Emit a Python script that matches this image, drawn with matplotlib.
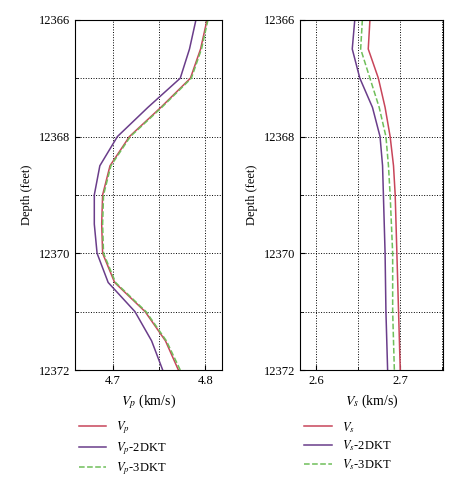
import matplotlib.pyplot as plt
from matplotlib.ticker import MultipleLocator

plt.rcParams['font.family'] = ['Liberation Serif', 'DejaVu Serif']
plt.rcParams['mathtext.fontset'] = 'stix'

depth = [12366, 12366.5, 12367, 12367.5, 12368, 12368.5, 12369, 12369.5, 12370,
         12370.5, 12371, 12371.5, 12372]
vp = [4.802, 4.795, 4.784, 4.752, 4.718, 4.697, 4.689, 4.688, 4.689,
      4.702, 4.735, 4.757, 4.771]
vp_3dkt = [4.803, 4.796, 4.785, 4.753, 4.719, 4.698, 4.690, 4.689, 4.690,
           4.703, 4.736, 4.758, 4.773]
vp_2dkt = [4.790, 4.783, 4.773, 4.738, 4.705, 4.686, 4.680, 4.680, 4.683,
           4.695, 4.724, 4.742, 4.754]

depth_s = [12366, 12366.5, 12367, 12367.5, 12368, 12368.5, 12369, 12370, 12371, 12372]
vs = [2.664, 2.662, 2.674, 2.682, 2.688, 2.692, 2.694, 2.696, 2.698, 2.700]
vs_2dkt = [2.646, 2.643, 2.652, 2.667, 2.676, 2.679, 2.680, 2.682, 2.683, 2.685]
vs_3dkt = [2.655, 2.653, 2.664, 2.675, 2.683, 2.686, 2.688, 2.691, 2.691, 2.693]

red, purple, green = '#c8455a', '#6a3d8a', '#6fbf5a'

fig = plt.figure(figsize=(4.74, 4.96), dpi=100)
ax1 = fig.add_axes([0.158, 0.254, 0.310, 0.706])
ax2 = fig.add_axes([0.633, 0.254, 0.302, 0.706])


def style(ax, xlim, major, minor):
    ax.set_ylim(12372, 12366)
    ax.set_xlim(*xlim)
    ax.yaxis.set_major_locator(MultipleLocator(2))
    ax.yaxis.set_minor_locator(MultipleLocator(1))
    ax.xaxis.set_major_locator(MultipleLocator(major))
    ax.xaxis.set_minor_locator(MultipleLocator(minor))
    ax.grid(True, which='both', color='k', linestyle=':', linewidth=0.7)
    ax.tick_params(which='both', direction='in', labelsize=9)
    ax.set_ylabel('Depth (feet)', fontsize=9)


ax1.plot(vp, depth, color=red, lw=1.1, label='$V_p$')
ax1.plot(vp_2dkt, depth, color=purple, lw=1.1, label='$V_p$-2DKT')
ax1.plot(vp_3dkt, depth, color=green, lw=1.1, ls='--', label='$V_p$-3DKT')
style(ax1, (4.659, 4.818), 0.1, 0.05)
ax1.set_xlabel('$V_p$ (km/s)', fontsize=10)

ax2.plot(vs, depth_s, color=red, lw=1.1, label='$V_s$')
ax2.plot(vs_2dkt, depth_s, color=purple, lw=1.1, label='$V_s$-2DKT')
ax2.plot(vs_3dkt, depth_s, color=green, lw=1.1, ls='--', label='$V_s$-3DKT')
style(ax2, (2.581, 2.751), 0.1, 0.05)
ax2.set_xlabel('$V_s$ (km/s)', fontsize=10)

for ax in (ax1, ax2):
    ax.legend(loc='upper left', bbox_to_anchor=(-0.05, -0.11), frameon=False,
              fontsize=9, handlelength=2.2, labelspacing=0.3)

fig.savefig('out.png', dpi=100)
